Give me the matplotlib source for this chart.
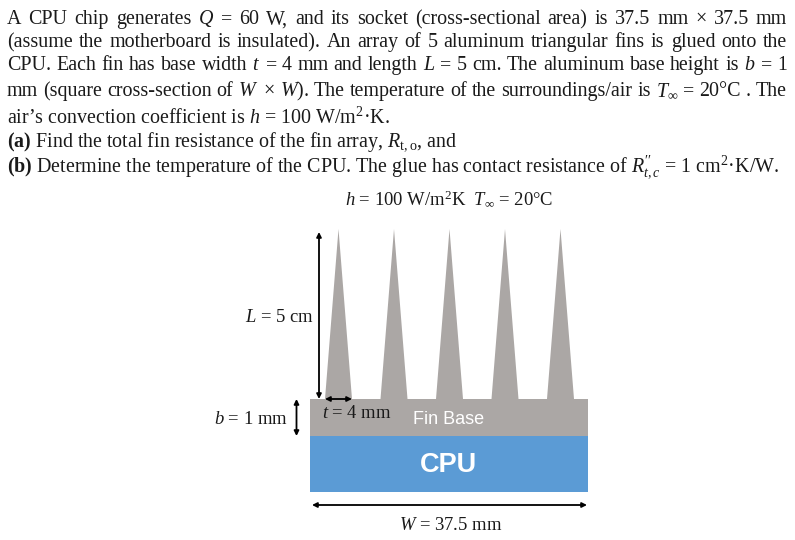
import matplotlib
matplotlib.use("Agg")
import matplotlib.pyplot as plt
from matplotlib.patches import Polygon, Rectangle

plt.rcParams['font.family'] = ['Liberation Serif', 'DejaVu Sans']
plt.rcParams['mathtext.fontset'] = 'custom'
plt.rcParams['mathtext.rm'] = 'Liberation Serif'
plt.rcParams['mathtext.it'] = 'Liberation Serif:italic'
plt.rcParams['mathtext.bf'] = 'Liberation Serif:bold'

W, H = 795, 540
INK = '#1a1a1a'
GREY = '#aba7a5'
BLUE = '#5b9bd5'

# fin geometry (pixels)
fin_centres = [338.5, 394, 449.5, 505, 560.5]
fin_half_width = 13.5
fin_tip_y = 229
fin_base_y = 399
cpu_bottom_y = 492
base_cpu_y = 436
block_left, block_right = 309.5, 587.5

# paragraph: (baseline y, justified?, tokens)
LEFT, RIGHT = 7, 787
paragraph = [
    (24.2, True, ['A', 'CPU', 'chip', 'generates', r'$\mathit{Q}$', '=', '60', 'W,', 'and', 'its', 'socket',
                  '(cross-sectional', 'area)', 'is', '37.5', 'mm', '×', '37.5', 'mm']),
    (47.2, True, ['(assume', 'the', 'motherboard', 'is', 'insulated).', 'An', 'array', 'of', '5', 'aluminum',
                  'triangular', 'fins', 'is', 'glued', 'onto', 'the']),
    (70.2, True, ['CPU.', 'Each', 'fin', 'has', 'base', 'width', r'$\mathit{t}$', '=', '4', 'mm', 'and', 'length',
                  r'$\mathit{L}$', '=', '5', 'cm.', 'The', 'aluminum', 'base', 'height', 'is', r'$\mathit{b}$', '=', '1']),
    (96, True, ['mm', '(square', 'cross-section', 'of', r'$\mathit{W}$', '×', r'$\mathit{W}$).', 'The', 'temperature',
                'of', 'the', 'surroundings/air', 'is', r'$\mathit{T}_{\infty}$', '=', '20°C', '.', 'The']),
    (124, False, [r"air’s convection coefficient is $\mathit{h}$ = 100 W/m$^{2}$·K."]),
    (147, False, [r"$\mathbf{(a)}$ Find the total fin resistance of the fin array, $\mathit{R}_{\mathrm{t,o}}$, and"]),
    (172, False, [r"$\mathbf{(b)}$ Determine the temperature of the CPU. The glue has contact resistance of "
                  r"$\mathit{R}^{\prime\prime}_{t,c}$ = 1 cm$^{2}$·K/W."]),
]
BODY = 14.4

fig = plt.figure(figsize=(W / 100, H / 100), dpi=100)
ax = fig.add_axes([0, 0, 1, 1])
ax.set_xlim(0, W)
ax.set_ylim(H, 0)
ax.axis('off')

renderer = fig.canvas.get_renderer()


def put_line(y, justified, tokens):
    if not justified:
        ax.text(LEFT, y, tokens[0], fontsize=BODY, color=INK, va='baseline', ha='left')
        return
    items = [ax.text(LEFT, y, t, fontsize=BODY, color=INK, va='baseline', ha='left') for t in tokens]
    widths = [it.get_window_extent(renderer).width for it in items]
    gap = (RIGHT - LEFT - sum(widths)) / (len(items) - 1)
    x = LEFT
    for it, w in zip(items, widths):
        it.set_x(x)
        x += w + gap


for y, just, toks in paragraph:
    put_line(y, just, toks)

# drawing
ax.add_patch(Rectangle((block_left, fin_base_y), block_right - block_left, base_cpu_y - fin_base_y,
                       fc=GREY, ec='none'))
ax.add_patch(Rectangle((block_left, base_cpu_y), block_right - block_left, cpu_bottom_y - base_cpu_y,
                       fc=BLUE, ec='none'))
for c in fin_centres:
    ax.add_patch(Polygon([(c - fin_half_width, fin_base_y), (c, fin_tip_y), (c + fin_half_width, fin_base_y)],
                         closed=True, fc=GREY, ec='none'))


def arrow(x0, y0, x1, y1, style='<|-|>'):
    ax.annotate('', xy=(x1, y1), xytext=(x0, y0),
                arrowprops=dict(arrowstyle=style + ',head_length=0.28,head_width=0.14', lw=1.3, color='black',
                                shrinkA=0, shrinkB=0))


arrow(319, 399, 319, 232)
arrow(325, 399, 352, 399)
arrow(296.5, 399, 296.5, 436)
arrow(312, 505, 587, 505)

LAB = 13.4
ax.text(345, 205, r'$\mathit{h}$ = 100 W/m$^{2}$K  $\mathit{T}_{\infty}$ = 20°C', fontsize=LAB, color=INK, va='baseline')
ax.text(245, 322, r'$\mathit{L}$ = 5 cm', fontsize=LAB, color=INK, va='baseline')
ax.text(214, 424, r'$\mathit{b}$ = 1 mm', fontsize=LAB, color=INK, va='baseline')
ax.text(322, 418, r'$\mathit{t}$ = 4 mm', fontsize=LAB, color=INK, va='baseline')
ax.text(399, 530, r'$\mathit{W}$ = 37.5 mm', fontsize=LAB, color=INK, va='baseline')
ax.text(448.5, 419, 'Fin Base', family='Liberation Sans', fontsize=13, color='white', ha='center', va='center')
ax.text(448.5, 465, 'CPU', family='Liberation Sans', fontweight='bold', fontsize=19.5, color='white',
        ha='center', va='center')

fig.savefig('out.png', dpi=100, facecolor='white')
